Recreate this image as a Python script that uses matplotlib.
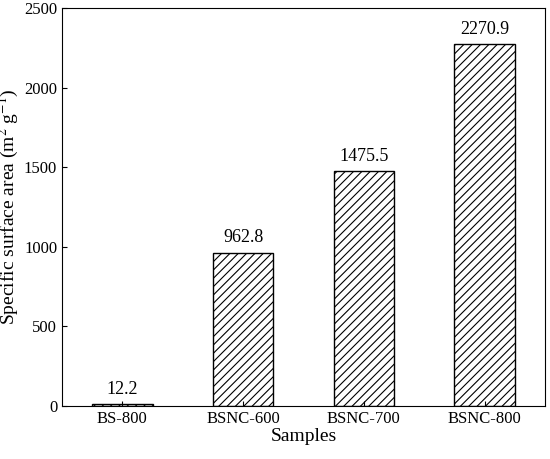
import matplotlib
matplotlib.use("Agg")
import matplotlib.pyplot as plt

plt.rcParams['font.family'] = ['Liberation Serif', 'DejaVu Serif']
plt.rcParams['mathtext.fontset'] = 'stix'
plt.rcParams['hatch.linewidth'] = 0.8

samples = ["BS-800", "BSNC-600", "BSNC-700", "BSNC-800"]
values = [12.2, 962.8, 1475.5, 2270.9]

fig = plt.figure(figsize=(5.5, 4.59), dpi=100)
ax = fig.add_axes([62/550, 1-406/459, 483/550, 398/459])
x = range(len(samples))
ax.bar(x, values, width=0.5, facecolor='white', edgecolor='black', hatch='////', linewidth=1)
for i, v in zip(x, values):
    ax.text(i, v + 40, f"{v}", ha='center', va='bottom', fontsize=13)
ax.set_xlim(-0.5, 3.5)
ax.set_ylim(0, 2500)
ax.set_yticks(range(0, 2501, 500))
ax.set_xticks(list(x))
ax.set_xticklabels(samples, fontsize=12)
ax.tick_params(axis='y', labelsize=12, direction='in')
ax.tick_params(axis='x', direction='in')
ax.set_xlabel("Samples", fontsize=14, labelpad=1)
ax.set_ylabel("Specific surface area (m$^{2}$ g$^{-1}$)", fontsize=14, labelpad=2)
fig.savefig("out.png", dpi=100)
